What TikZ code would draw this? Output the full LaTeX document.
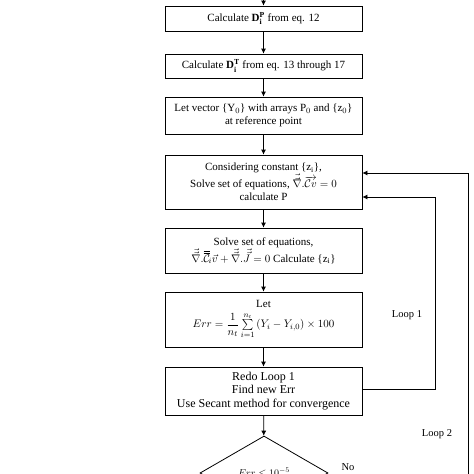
\documentclass[tikz,border=0pt]{standalone}
\usepackage{fontspec}
\setmainfont{Liberation Serif}
\usepackage{amsmath}
\usetikzlibrary{shapes.geometric,arrows.meta}
\begin{document}
\begin{tikzpicture}[x=1pt,y=-1pt,
  box/.style={draw,line width=0.8pt,minimum width=197pt,align=center,inner sep=2pt,font=\fontsize{11}{13}\selectfont},
  arr/.style={-{Latex[length=5pt,width=5pt]},line width=0.8pt},
  ln/.style={line width=0.8pt},
  lbl/.style={font=\fontsize{10.5}{12}\selectfont}]
\useasboundingbox (0,0) rectangle (474,474);
\fill[white] (0,0) rectangle (474,474);
\coordinate (top) at (263.5,-2);
\node[box,minimum height=25pt] (b1) at (263.5,18.5) {Calculate $\mathbf{D}_\mathbf{i}^\mathbf{P}$ from eq. 12};
\node[box,minimum height=24pt] (b2) at (263.5,66) {Calculate $\mathbf{D}_\mathbf{i}^\mathbf{T}$ from eq. 13 through 17};
\node[box,minimum height=37pt] (b3) at (263.5,115.5) {Let vector \{Y$_0$\} with arrays P$_0$ and \{z$_0$\}\\ at reference point};
\node[box,minimum height=54pt] (b4) at (263.5,182) {Considering constant \{z$_\mathrm{i}$\},\\ Solve set of equations, $\vec{\vec{\nabla}}.\overrightarrow{\mathcal{C}v}=0$\\ calculate P};
\node[box,minimum height=45pt] (b5) at (263.5,250.5) {Solve set of equations,\\ $\vec{\vec{\nabla}}.\overline{\overline{\mathcal{C}}}_{\!i}\vec{v}+\vec{\vec{\nabla}}.\vec{\vec{J}}=0$ Calculate \{z$_\mathrm{i}$\}};
\node[box,minimum height=55pt] (b6) at (263.5,319.5) {Let\\[4pt] $Err=\dfrac{1}{n_t}\sum\limits_{i=1}^{n_t}\left(Y_i-Y_{i,0}\right)\times100$\hspace{10pt}};
\node[box,minimum height=48pt,font=\fontsize{12}{13.5}\selectfont] (b7) at (263.5,391) {Redo Loop 1\\ Find new Err\\ Use Secant method for convergence};
\node[draw,line width=0.8pt,diamond,minimum width=128pt,minimum height=74pt,inner sep=0pt,font=\fontsize{10}{12}\selectfont] (d) at (264,473) {$Err\le10^{-5}$};
\draw[arr] (top) -- (b1);
\draw[arr] (b1) -- (b2);
\draw[arr] (b2) -- (b3);
\draw[arr] (b3) -- (b4);
\draw[arr] (b4) -- (b5);
\draw[arr] (b5) -- (b6);
\draw[arr] (b6) -- (b7);
\draw[arr] (b7) -- (d);
\coordinate (l1a) at (435,389);
\coordinate (l1b) at (435,197);
\draw[arr] (b7.east |- l1a) -- (l1a) -- (l1b) -- (b4.east |- l1b);
\coordinate (l2a) at (468,490);
\coordinate (l2b) at (468,173);
\draw[arr] (l2a) -- (l2b) -- (b4.east |- l2b);
\node[lbl] (loop1) at (407,315) {Loop 1};
\node[lbl] (loop2) at (437,434) {Loop 2};
\node[lbl] (no) at (348,467) {No};
\end{tikzpicture}
\end{document}
